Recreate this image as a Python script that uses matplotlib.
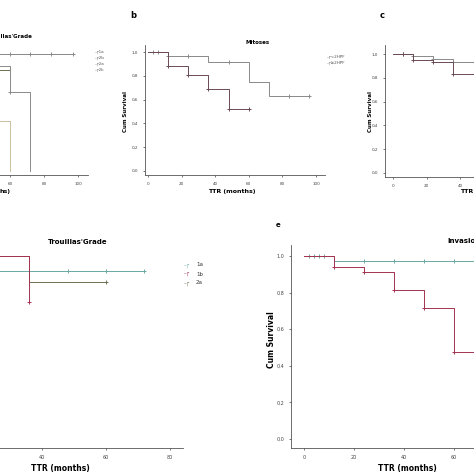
import matplotlib.pyplot as plt

W = 474.0
TEAL = "#6aa9a3"
RED = "#a3324f"
OLIVE = "#6f6f55"
GREY = "#8a8a8a"

# panel a (Trouillas'Grade, top)
a_1a_t = [0, 97]
a_1a_s = [0.98, 0.98]
a_1a_c = [60, 72, 84, 97]
a_2b_t = [-60, 60, 72]
a_2b_s = [0.88, 0.66, 0.0]
a_2a_t = [-60, 60]
a_2a_s = [0.42, 0.0]
a_1b_t = [-60, 60]
a_1b_s = [0.85, 0.85]

# panel b (Mitoses)
b_lo_t = [0, 12, 24, 36, 60, 72, 96]
b_lo_s = [1.0, 0.97, 0.97, 0.92, 0.75, 0.63, 0.63]
b_lo_c = [3, 6, 12, 24, 48, 84, 96]
b_hi_t = [0, 12, 24, 36, 48, 60]
b_hi_s = [1.0, 0.88, 0.81, 0.69, 0.52, 0.52]
b_hi_c = [12, 24, 36, 48, 60]

# panel c
c_g_t = [0, 12, 24, 36, 60, 110]
c_g_s = [1.0, 0.98, 0.96, 0.93, 0.93, 0.93]
c_d_t = [0, 12, 24, 36, 110]
c_d_s = [1.0, 0.95, 0.93, 0.83, 0.83]
c_cens = [6, 12, 24, 36]

# panel d (Trouillas'Grade, bottom)
d_1a_t = [-10, 72]
d_1a_s = [0.92, 0.92]
d_1a_c = [48, 60, 72]
d_1b_t = [-10, 36, 36]
d_1b_s = [1.0, 0.75, 0.75]
d_2a_t = [-10, 36, 60]
d_2a_s = [1.0, 0.857, 0.857]

# panel e (Invasion)
e_no_t = [0, 12, 110]
e_no_s = [1.0, 0.973, 0.973]
e_no_c = [2, 4, 6, 8, 24, 36, 48, 60, 72]
e_yes_t = [0, 12, 24, 36, 48, 60, 110]
e_yes_s = [1.0, 0.942, 0.91, 0.815, 0.715, 0.475, 0.475]
e_yes_c = [12, 24, 36, 48, 60]


def make_ax(fig, left, right, top, bottom, x0, xs, y1, y0, fs):
    ax = fig.add_axes([left / W, 1 - bottom / W, (right - left) / W, (bottom - top) / W])
    ax.set_xlim((left - x0) / xs, (right - x0) / xs)
    ax.set_ylim((y0 - bottom) / (y0 - y1), (y0 - top) / (y0 - y1))
    for s in ["top", "right"]:
        ax.spines[s].set_visible(False)
    for s in ["left", "bottom"]:
        ax.spines[s].set_linewidth(0.6)
        ax.spines[s].set_color("#555555")
    ax.set_yticks([0, 0.2, 0.4, 0.6, 0.8, 1.0])
    ax.set_yticklabels(["0,0", "0,2", "0,4", "0,6", "0,8", "1,0"])
    ax.tick_params(labelsize=fs, length=1.5, width=0.5, colors="#444444")
    return ax


def km(ax, t, s, color, cens=None, lw=0.7):
    ax.step(t, s, where="post", color=color, lw=lw)
    if cens:
        vals = [s[max(i for i, tt in enumerate(t) if tt <= c)] for c in cens]
        ax.plot(cens, vals, "+", color=color, ms=3, mew=0.7)


fig = plt.figure(figsize=(4.74, 4.74), dpi=100)

# a
ax = make_ax(fig, -95, 88, 45, 175, -92, 1.7, 52, 171, 3)
ax.set_xticks([40, 60, 80, 100])
km(ax, a_1a_t, a_1a_s, GREY, a_1a_c)
km(ax, a_1b_t, a_1b_s, OLIVE)
km(ax, a_2b_t, a_2b_s, GREY, [60])
km(ax, a_2a_t, a_2a_s, "#c8c0a0")
fig.text(0 / W, 1 - 191 / W, "hs)", fontsize=4.5, fontweight="bold", va="center")
fig.text(-14 / W, 1 - 37 / W, "Trouillas'Grade", fontsize=4, fontweight="bold", va="center")
for i, lab in enumerate(["1a", "2b", "2a", "2k"]):
    fig.text(95 / W, 1 - (52 + i * 6) / W, "\u2013\u250c" + lab, fontsize=3, color="#555555", va="center")

# b
ax = make_ax(fig, 145, 325, 45, 175, 148, 1.68, 52, 171, 3)
ax.set_xticks([0, 20, 40, 60, 80, 100])
km(ax, b_lo_t, b_lo_s, GREY, b_lo_c)
km(ax, b_hi_t, b_hi_s, "#6a4a55", b_hi_c)
fig.text(130 / W, 1 - 15 / W, "b", fontsize=6, fontweight="bold", va="center")
fig.text(258 / W, 1 - 42 / W, "Mitoses", fontsize=4, fontweight="bold", ha="center", va="center")
fig.text(126 / W, 1 - 112 / W, "Cum Survival", fontsize=4, fontweight="bold", rotation=90, ha="center", va="center")
fig.text(232 / W, 1 - 191 / W, "TTR (months)", fontsize=4.5, fontweight="bold", ha="center", va="center")
fig.text(327 / W, 1 - 57 / W, "\u2013\u250c<2HPF", fontsize=3, color="#555555", va="center")
fig.text(327 / W, 1 - 63 / W, "\u2013\u250c\u22652HPF", fontsize=3, color="#555555", va="center")

# c
ax = make_ax(fig, 385, 565, 45, 177, 393, 1.68, 54, 173, 3)
ax.set_xticks([0, 20, 40, 60, 80, 100])
km(ax, c_g_t, c_g_s, GREY, c_cens)
km(ax, c_d_t, c_d_s, "#6a4a55", c_cens)
fig.text(380 / W, 1 - 15 / W, "c", fontsize=6, fontweight="bold", va="center")
fig.text(370 / W, 1 - 112 / W, "Cum Survival", fontsize=4, fontweight="bold", rotation=90, ha="center", va="center")
fig.text(460 / W, 1 - 191 / W, "TTR (months)", fontsize=4.5, fontweight="bold", va="center")

# d
ax = make_ax(fig, -90, 183, 245, 448, -86, 3.2, 256, 439, 3.5)
ax.set_xticks([20, 40, 60, 80])
km(ax, d_1a_t, d_1a_s, TEAL, d_1a_c)
km(ax, d_2a_t, d_2a_s, OLIVE, [60])
km(ax, d_1b_t, d_1b_s, RED, [36])
fig.text(78 / W, 1 - 242 / W, "Trouillas'Grade", fontsize=5, fontweight="bold", ha="center", va="center")
fig.text(60 / W, 1 - 468 / W, "TTR (months)", fontsize=5.5, fontweight="bold", ha="center", va="center")
for i, (lab, col) in enumerate([("1a", TEAL), ("1b", RED), ("2a", OLIVE)]):
    fig.text(184 / W, 1 - (265 + i * 9) / W, "\u2013\u250c", fontsize=4, color=col, va="center")
    fig.text(196 / W, 1 - (265 + i * 9) / W, lab, fontsize=4, color="#333333", va="center")

# e
ax = make_ax(fig, 291, 560, 245, 448, 304, 2.5, 256, 439, 3.5)
ax.set_xticks([0, 20, 40, 60, 80])
km(ax, e_no_t, e_no_s, TEAL, e_no_c)
km(ax, e_yes_t, e_yes_s, RED, e_yes_c)
fig.text(276 / W, 1 - 225 / W, "e", fontsize=5, fontweight="bold", va="center")
fig.text(447 / W, 1 - 241 / W, "Invasion", fontsize=5, fontweight="bold", va="center")
fig.text(271 / W, 1 - 340 / W, "Cum Survival", fontsize=5.5, fontweight="bold", rotation=90, ha="center", va="center")
fig.text(407 / W, 1 - 468 / W, "TTR (months)", fontsize=5.5, fontweight="bold", ha="center", va="center")

fig.savefig("out.png", dpi=100)
